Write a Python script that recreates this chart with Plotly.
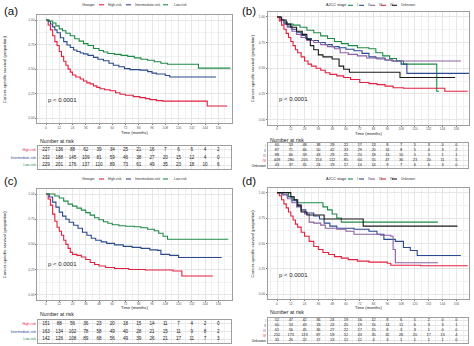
import plotly.graph_objects as go

W, H = 474, 346
FONT = "Liberation Sans"

RED = "#E3203F"
BLUE = "#2B4A8E"
GREEN = "#1F8A47"
PURPLE = "#8D62A3"
BLACK = "#1A1A1A"

TIME_TICKS = list(range(0, 157, 12))
SURV_TICKS = [0.0, 0.25, 0.5, 0.75, 1.0]
SURV_LABELS = ["0.00", "0.25", "0.50", "0.75", "1.00"]

RISK_GROUPS = ["High-risk", "Intermediate-risk", "Low-risk"]
AJCC_STAGES = ["I", "II", "III", "IV", "Unknown"]

# ---- (a) risk groups, training cohort ----
A_HIGH_T = [0, 2, 4, 6, 8, 10, 12, 14, 16, 18, 20, 22, 24, 27, 31, 34, 37, 40, 43, 46, 49, 53, 58, 63, 67, 72, 79, 85, 90, 94, 100, 106, 146, 164]
A_HIGH_S = [1.0, .95, .90, .84, .78, .74, .68, .63, .58, .54, .50, .47, .44, .42, .40, .38, .36, .35, .33, .315, .30, .29, .28, .26, .245, .235, .22, .21, .20, .19, .18, .175, .125, .125]
A_INT_T = [0, 2, 4, 6, 8, 10, 13, 16, 19, 22, 25, 28, 31, 34, 38, 43, 47, 52, 57, 61, 66, 71, 76, 85, 92, 96, 100, 108, 112, 154]
A_INT_S = [1.0, .985, .96, .93, .90, .87, .82, .78, .745, .72, .695, .68, .665, .655, .64, .62, .60, .585, .56, .54, .525, .505, .495, .49, .475, .46, .45, .435, .42, .42]
A_LOW_T = [0, 3, 6, 9, 12, 15, 18, 22, 26, 30, 34, 38, 43, 48, 52, 56, 62, 68, 74, 80, 86, 92, 98, 104, 110, 138, 167]
A_LOW_S = [1.0, .99, .97, .94, .91, .89, .865, .84, .81, .785, .76, .74, .71, .69, .675, .66, .65, .64, .63, .615, .60, .59, .575, .56, .55, .51, .51]
A_RISK_HIGH = [227, 136, 88, 62, 39, 34, 25, 21, 16, 7, 6, 6, 4, 2]
A_RISK_INT = [232, 188, 145, 109, 81, 59, 46, 38, 27, 20, 15, 12, 4, 0]
A_RISK_LOW = [229, 201, 176, 137, 110, 89, 73, 61, 49, 35, 23, 18, 10, 6]

# ---- (b) AJCC stage, training cohort ----
B_I_T = [0, 3, 6, 9, 14, 20, 26, 32, 38, 44, 50, 56, 62, 70, 80, 86, 92, 98, 104, 110, 139, 141]
B_I_S = [1.0, .97, .95, .93, .92, .90, .87, .845, .815, .79, .76, .74, .72, .70, .69, .65, .62, .595, .57, .54, .275, .275]
B_II_T = [0, 3, 6, 9, 13, 17, 21, 25, 30, 36, 42, 48, 54, 60, 67, 74, 80, 86, 94, 100, 108, 113, 167]
B_II_S = [1.0, .97, .94, .91, .88, .85, .82, .79, .77, .75, .73, .71, .70, .685, .67, .645, .61, .60, .58, .57, .54, .45, .45]
B_III_T = [0, 3, 6, 9, 13, 17, 21, 26, 32, 38, 44, 50, 55, 62, 70, 78, 87, 94, 101, 160]
B_III_S = [1.0, .97, .93, .90, .86, .83, .80, .77, .75, .73, .71, .69, .65, .635, .62, .60, .59, .58, .57, .57]
B_IV_T = [0, 2, 4, 6, 8, 10, 12, 14, 16, 18, 21, 24, 27, 30, 34, 38, 42, 46, 52, 58, 64, 72, 80, 87, 94, 101, 110, 146, 166]
B_IV_S = [1.0, .96, .92, .88, .84, .80, .76, .72, .68, .65, .61, .57, .54, .52, .50, .48, .455, .44, .425, .41, .39, .36, .35, .34, .325, .31, .305, .275, .275]
B_UNK_T = [0, 4, 8, 12, 17, 22, 26, 29, 32, 36, 40, 48, 54, 58, 63, 107, 155]
B_UNK_S = [1.0, .97, .93, .90, .86, .83, .78, .72, .68, .63, .61, .59, .52, .49, .46, .41, .41]
B_RISK_I = [60, 53, 48, 38, 28, 22, 17, 13, 8, 7, 5, 3, 0, 0]
B_RISK_II = [87, 71, 66, 50, 42, 33, 29, 20, 14, 8, 5, 4, 3, 2]
B_RISK_III = [88, 66, 59, 43, 29, 25, 20, 18, 14, 10, 5, 3, 1, 1]
B_RISK_IV = [409, 280, 205, 153, 112, 85, 64, 55, 47, 30, 23, 20, 11, 5]
B_RISK_UNK = [43, 37, 31, 24, 19, 17, 14, 14, 9, 7, 6, 6, 3, 0]

# ---- (c) risk groups, validation cohort ----
C_HIGH_T = [0, 2, 4, 6, 8, 10, 12, 14, 16, 18, 20, 22, 24, 28, 32, 36, 40, 44, 48, 54, 62, 75, 90, 115, 123, 151]
C_HIGH_S = [1.0, .95, .89, .80, .73, .67, .63, .59, .54, .50, .46, .42, .40, .39, .375, .35, .32, .30, .285, .27, .26, .25, .245, .235, .185, .185]
C_INT_T = [0, 3, 6, 9, 12, 15, 18, 21, 25, 29, 33, 37, 41, 45, 50, 55, 62, 70, 78, 86, 94, 101, 104, 112, 120, 159]
C_INT_S = [1.0, .97, .92, .87, .82, .78, .75, .72, .69, .66, .62, .59, .56, .54, .525, .51, .495, .48, .47, .46, .445, .44, .40, .39, .37, .37]
C_LOW_T = [0, 4, 8, 12, 16, 20, 24, 28, 32, 36, 40, 44, 48, 52, 56, 60, 66, 72, 80, 86, 92, 98, 102, 106, 110, 165]
C_LOW_S = [1.0, 1.0, .98, .96, .93, .90, .88, .86, .84, .815, .79, .765, .745, .725, .71, .695, .685, .68, .675, .665, .65, .635, .61, .58, .55, .55]
C_RISK_HIGH = [151, 88, 56, 36, 23, 20, 18, 15, 14, 11, 7, 4, 2, 0]
C_RISK_INT = [163, 134, 102, 78, 58, 49, 40, 28, 21, 15, 11, 9, 8, 2]
C_RISK_LOW = [142, 126, 108, 89, 68, 56, 49, 39, 26, 21, 17, 11, 7, 3]

# ---- (d) AJCC stage, validation cohort ----
D_I_T = [0, 6, 10, 14, 17, 36, 40, 44, 48, 52, 56, 140]
D_I_S = [1.0, 1.0, .96, .93, .90, .90, .86, .83, .79, .75, .71, .71]
D_II_T = [0, 5, 9, 13, 17, 21, 25, 32, 37, 41, 46, 52, 67, 80, 87, 93, 103, 110, 116, 122, 160]
D_II_S = [1.0, .98, .96, .92, .88, .83, .80, .77, .74, .70, .67, .65, .64, .62, .59, .54, .52, .46, .43, .38, .38]
D_III_T = [0, 4, 9, 13, 17, 21, 24, 28, 32, 38, 42, 52, 60, 67, 90, 99, 101, 103, 140]
D_III_S = [1.0, .98, .94, .90, .86, .82, .79, .71, .70, .68, .65, .64, .62, .59, .58, .57, .44, .31, .31]
D_IV_T = [0, 2, 4, 6, 8, 10, 12, 14, 16, 18, 21, 24, 28, 32, 36, 40, 45, 50, 56, 62, 70, 80, 96, 99, 125, 166]
D_IV_S = [1.0, .97, .93, .89, .85, .81, .77, .73, .69, .66, .61, .57, .52, .47, .44, .41, .39, .37, .355, .34, .325, .315, .305, .285, .28, .28]
D_UNK_T = [0, 8, 12, 15, 18, 21, 26, 41, 75, 157]
D_UNK_S = [1.0, 1.0, .96, .93, .87, .81, .78, .74, .67, .67]
D_RISK_I = [52, 47, 42, 36, 24, 19, 16, 12, 8, 6, 5, 2, 0, 0]
D_RISK_II = [60, 53, 43, 33, 24, 20, 19, 16, 14, 11, 6, 3, 3, 1]
D_RISK_III = [61, 56, 45, 36, 27, 22, 17, 15, 8, 3, 3, 1, 0, 0]
D_RISK_IV = [252, 173, 119, 87, 59, 52, 43, 35, 32, 26, 20, 17, 13, 4]
D_RISK_UNK = [31, 26, 22, 17, 13, 12, 12, 4, 3, 1, 1, 1, 1, 0]


def fx(p):
    return p / W


def fy(p):
    return 1 - p / H


GRID = "#E6E6E6"
MINOR = "#F1F1F1"
BORDER = "#9E9E9E"

# pixel geometry of each panel: plot box, time origin & 156-month tick, table box
PANELS = [
    dict(tag="(a)", lab=(2, 11), box=(37, 232, 15.1, 123.2), t0=46.0, t156=218.3,
         tab=(37.5, 230.5, 146, 169), tabtitle=141, xtitle=132.5, ytitle_x=4,
         leg_y=4.8, pval_y=0.19,
         curves=[(A_HIGH_T, A_HIGH_S, RED), (A_INT_T, A_INT_S, BLUE), (A_LOW_T, A_LOW_S, GREEN)],
         groups=RISK_GROUPS, colors=[RED, BLUE, GREEN],
         risk=[A_RISK_HIGH, A_RISK_INT, A_RISK_LOW], legend="Groups",
         leg_x=dict(title=80, lines=[(99, 104, 106), (126, 131, 133), (163, 168, 172)])),
    dict(tag="(b)", lab=(240, 11), box=(267.5, 469, 11.8, 124.6), t0=277.0, t156=456.3,
         tab=(267.5, 468, 143, 168), tabtitle=139.8, xtitle=133.6, ytitle_x=252,
         leg_y=5.3, pval_y=0.20,
         curves=[(B_I_T, B_I_S, GREEN), (B_II_T, B_II_S, BLUE), (B_III_T, B_III_S, PURPLE),
                 (B_IV_T, B_IV_S, RED), (B_UNK_T, B_UNK_S, BLACK)],
         groups=AJCC_STAGES, colors=[GREEN, BLUE, PURPLE, RED, BLACK],
         risk=[B_RISK_I, B_RISK_II, B_RISK_III, B_RISK_IV, B_RISK_UNK], legend="AJCC stage",
         leg_x=dict(title=324, lines=[(348, 353, 355), (359, 364, 366), (370, 375, 377),
                                      (381, 386, 388), (392, 397, 399)])),
    dict(tag="(c)", lab=(2, 181), box=(37, 232, 189, 299.7), t0=46.0, t156=218.3,
         tab=(37.5, 230.5, 320, 343), tabtitle=314, xtitle=307.3, ytitle_x=4,
         leg_y=179, pval_y=0.30,
         curves=[(C_HIGH_T, C_HIGH_S, RED), (C_INT_T, C_INT_S, BLUE), (C_LOW_T, C_LOW_S, GREEN)],
         groups=RISK_GROUPS, colors=[RED, BLUE, GREEN],
         risk=[C_RISK_HIGH, C_RISK_INT, C_RISK_LOW], legend="Groups",
         leg_x=dict(title=80, lines=[(99, 104, 106), (126, 131, 133), (163, 168, 172)])),
    dict(tag="(d)", lab=(240, 181), box=(267.5, 469, 187.6, 299.2), t0=277.0, t156=456.3,
         tab=(267.5, 468, 318, 343), tabtitle=312, xtitle=307.8, ytitle_x=252,
         leg_y=179, pval_y=0.19,
         curves=[(D_I_T, D_I_S, GREEN), (D_II_T, D_II_S, BLUE), (D_III_T, D_III_S, PURPLE),
                 (D_IV_T, D_IV_S, RED), (D_UNK_T, D_UNK_S, BLACK)],
         groups=AJCC_STAGES, colors=[GREEN, BLUE, PURPLE, RED, BLACK],
         risk=[D_RISK_I, D_RISK_II, D_RISK_III, D_RISK_IV, D_RISK_UNK], legend="AJCC stage",
         leg_x=dict(title=324, lines=[(348, 353, 355), (359, 364, 366), (370, 375, 377),
                                      (381, 386, 388), (392, 397, 399)])),
]

fig = go.Figure()
layout = dict(width=W, height=H, margin=dict(l=0, r=0, t=0, b=0),
              paper_bgcolor="white", plot_bgcolor="white", showlegend=False,
              font=dict(family=FONT, color="#333"))
annotations = []
shapes = []

TICK_FONT = dict(family=FONT, size=3.2, color="#555")

for i, p in enumerate(PANELS):
    k_main = 2 * i + 1
    k_tab = 2 * i + 2
    xm, ym = f"x{k_main}", f"y{k_main}"
    xt, yt = f"x{k_tab}", f"y{k_tab}"
    scale = (p["t156"] - p["t0"]) / 156.0

    def trange(a, b, p=p, scale=scale):
        return [(a - p["t0"]) / scale, (b - p["t0"]) / scale]

    L, R, T, B = p["box"]
    layout[f"xaxis{k_main}"] = dict(
        domain=[fx(L), fx(R)], range=trange(L, R), anchor=ym,
        tickvals=TIME_TICKS, ticktext=[str(t) for t in TIME_TICKS],
        ticks="outside", ticklen=1, tickcolor="#777", tickfont=TICK_FONT,
        showgrid=True, gridcolor=GRID, gridwidth=0.8,
        minor=dict(dtick=6, tick0=0, showgrid=True, gridcolor=MINOR, gridwidth=0.6),
        showline=True, linecolor=BORDER, linewidth=0.8, mirror=True, zeroline=False)
    layout[f"yaxis{k_main}"] = dict(
        domain=[fy(B), fy(T)], range=[-0.05, 1.05], anchor=xm,
        tickvals=SURV_TICKS, ticktext=SURV_LABELS,
        ticks="outside", ticklen=1, tickcolor="#777", tickfont=TICK_FONT,
        showgrid=True, gridcolor=GRID, gridwidth=0.8,
        minor=dict(dtick=0.125, tick0=0, showgrid=True, gridcolor=MINOR, gridwidth=0.6),
        showline=True, linecolor=BORDER, linewidth=0.8, mirror=True, zeroline=False)

    for (tt, ss, col) in p["curves"]:
        fig.add_trace(go.Scatter(x=tt, y=ss, mode="lines", line=dict(color=col, width=1.1, shape="hv"),
                                 xaxis=xm, yaxis=ym, hoverinfo="skip"))

    # risk table
    tL, tR, tT, tB = p["tab"]
    n = len(p["groups"])
    rows = list(range(n, 0, -1))
    layout[f"xaxis{k_tab}"] = dict(
        domain=[fx(tL), fx(tR)], range=trange(tL, tR), anchor=yt,
        tickvals=TIME_TICKS, showticklabels=False, ticks="",
        showgrid=True, gridcolor=GRID, gridwidth=0.8,
        minor=dict(dtick=6, tick0=0, showgrid=True, gridcolor=MINOR, gridwidth=0.6),
        showline=True, linecolor=BORDER, linewidth=0.8, mirror=True, zeroline=False)
    layout[f"yaxis{k_tab}"] = dict(
        domain=[fy(tB), fy(tT)], range=[0.5, n + 0.5], anchor=xt,
        tickvals=rows,
        ticktext=[f'<span style="color:{c}">{g}</span>' for g, c in zip(p["groups"], p["colors"])],
        ticks="", tickfont=dict(family=FONT, size=3.4),
        showgrid=True, gridcolor=GRID, gridwidth=0.8,
        showline=True, linecolor=BORDER, linewidth=0.8, mirror=True, zeroline=False)
    for r, counts in zip(rows, p["risk"]):
        fig.add_trace(go.Scatter(x=TIME_TICKS, y=[r] * len(counts), mode="text",
                                 text=[str(c) for c in counts],
                                 textfont=dict(family=FONT, size=4.6 if n == 3 else 3.9, color="#222"),
                                 xaxis=xt, yaxis=yt, hoverinfo="skip"))

    # panel letter
    annotations.append(dict(text=p["tag"], x=fx(p["lab"][0]), y=fy(p["lab"][1]), xref="paper", yref="paper",
                            xanchor="left", yanchor="middle", showarrow=False,
                            font=dict(family=FONT, size=11.5, color="#111")))
    # p value
    annotations.append(dict(text="p < 0.0001", x=0, y=p["pval_y"], xref=xm, yref=ym,
                            xanchor="left", yanchor="middle", showarrow=False,
                            font=dict(family=FONT, size=6, color="#222")))
    # axis titles
    annotations.append(dict(text="Time (months)", x=fx((L + R) / 2), y=fy(p["xtitle"]), xref="paper",
                            yref="paper", xanchor="center", yanchor="middle", showarrow=False,
                            font=dict(family=FONT, size=4.2, color="#222")))
    annotations.append(dict(text="Cancer-specific survival (proportion)", x=fx(p["ytitle_x"]),
                            y=fy((T + B) / 2), xref="paper", yref="paper", textangle=-90,
                            xanchor="center", yanchor="middle", showarrow=False,
                            font=dict(family=FONT, size=4.2, color="#222")))
    annotations.append(dict(text="Number at risk", x=fx(tL), y=fy(p["tabtitle"]), xref="paper",
                            yref="paper", xanchor="left", yanchor="middle", showarrow=False,
                            font=dict(family=FONT, size=5.2, color="#222")))
    # legend row
    ly = fy(p["leg_y"])
    annotations.append(dict(text=p["legend"], x=fx(p["leg_x"]["title"]), y=ly, xref="paper", yref="paper",
                            xanchor="left", yanchor="middle", showarrow=False,
                            font=dict(family=FONT, size=3.8, color="#222")))
    for (x0, x1, xl), g, c in zip(p["leg_x"]["lines"], p["groups"], p["colors"]):
        shapes.append(dict(type="line", xref="paper", yref="paper", x0=fx(x0), x1=fx(x1), y0=ly, y1=ly,
                           line=dict(color=c, width=1.1)))
        annotations.append(dict(text=g, x=fx(xl), y=ly, xref="paper", yref="paper",
                                xanchor="left", yanchor="middle", showarrow=False,
                                font=dict(family=FONT, size=3.4, color="#333")))

layout["annotations"] = annotations
layout["shapes"] = shapes
fig.update_layout(**layout)
fig.write_html("out.html")
